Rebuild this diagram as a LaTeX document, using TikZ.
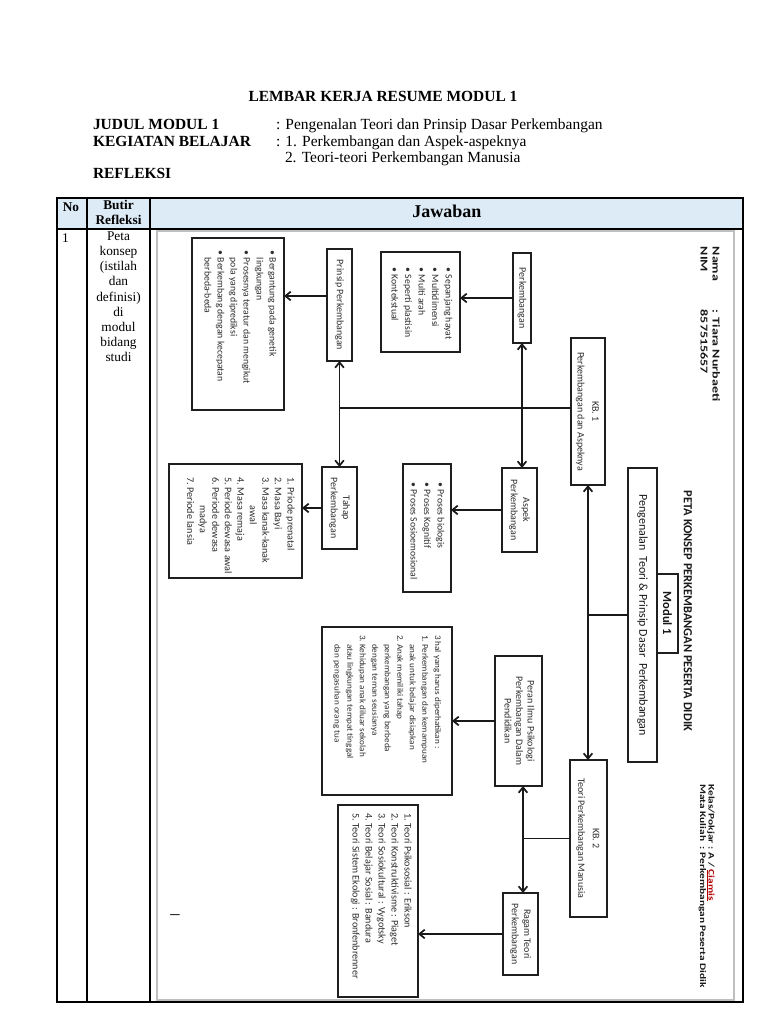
\documentclass[tikz,border=0pt]{standalone}
\usepackage{fontspec}
\setmainfont{Liberation Serif}
\newfontfamily\carl{Carlito}
\usepackage{graphicx}
\usetikzlibrary{arrows.meta}
\newlength\px
\setlength\px{0.75pt}
\definecolor{hdrblue}{RGB}{221,235,247}
\newcommand\rotT[1]{\rotatebox{-90}{#1}}
\begin{document}
\begin{tikzpicture}[x=0.75pt,y=-0.75pt,
  every node/.style={inner sep=0pt, outer sep=0pt},
  box/.style={draw=black!88, line width=1.1pt, fill=white, text=black!82},
  lbl/.style={box, font=\carl\fontsize{7.5}{9.2}\selectfont},
  kbl/.style={box, font=\carl\fontsize{7.5}{11.2}\selectfont},
  ltxt/.style={rotate=-90, anchor=base west, text=black!82},
  conn/.style={draw=black!90, line width=1.3pt},
  arr/.style={conn, -{Straight Barb[length=4pt,width=6.5pt]}},
  darr/.style={conn, {Straight Barb[length=4pt,width=6.5pt]}-{Straight Barb[length=4pt,width=6.5pt]}},
  hd/.style={font=\fontsize{11.6}{14}\selectfont},
  hdb/.style={font=\fontsize{11.6}{14}\selectfont\bfseries},
  tbl/.style={draw=black, line width=1.1pt},
]
\useasboundingbox (0,0) rectangle (768,1024);
\fill[white] (0,0) rectangle (768,1024);

% header texts
\node[hdb, anchor=base] (title) at (383,102) {LEMBAR KERJA RESUME MODUL 1};
\node[hdb, anchor=base west] (judul) at (93,129) {JUDUL MODUL 1};
\node[hd, anchor=base west] (judulv) at (276,129) {: Pengenalan Teori dan Prinsip Dasar Perkembangan};
\node[hdb, anchor=base west] (keg) at (93,146) {KEGIATAN BELAJAR};
\node[hd, anchor=base west] (kegv1) at (276,146) {: 1. Perkembangan dan Aspek-aspeknya};
\node[hd, anchor=base west] (kegv2) at (285,162) {2. Teori-teori Perkembangan Manusia};
\node[hdb, anchor=base west] (refl) at (93,178) {REFLEKSI};

% table
\fill[hdrblue] (57,198) rectangle (743,229);
\draw[tbl] (57,198) rectangle (743,1002);
\draw[tbl] (57,229) -- (743,229);
\draw[tbl] (87,198) -- (87,1002);
\draw[tbl] (150,198) -- (150,1002);

\node[font=\fontsize{10}{11.2}\selectfont\bfseries] (hno) at (71,207) {No};
\node[font=\fontsize{10}{11.2}\selectfont\bfseries] (hbutir) at (118.5,214) {\begin{tabular}{@{}c@{}}Butir\\Refleksi\end{tabular}};
\node[font=\fontsize{13.5}{16}\selectfont\bfseries] (hjaw) at (447,211) {Jawaban};
\node[font=\fontsize{10}{11.4}\selectfont, anchor=base west] (no1) at (62,242) {1};
\node[font=\fontsize{10}{11.4}\selectfont] (butir1) at (118.5,298) {\begin{tabular}{@{}c@{}}Peta\\konsep\\(istilah\\dan\\definisi)\\di\\modul\\bidang\\studi\end{tabular}};

% picture frame
\draw[black!25, line width=1.1pt] (157,231) rectangle (734,1000);
\node[font=\fontsize{14}{16}\selectfont] (dash) at (175,917) {–};

% ---------- concept map: boxes ----------
\node[box, minimum width=92\px, minimum height=172\px] (A) at (238,324) {};
\node[lbl, minimum width=25\px, minimum height=112\px] (B) at (339.5,305) {\rotT{Prinsip Perkembangan}};
\node[box, minimum width=79\px, minimum height=100\px] (C) at (420.5,302) {};
\node[lbl, minimum width=18\px, minimum height=90\px] (D) at (522,298) {\rotT{Perkembangan}};
\node[kbl, minimum width=34\px, minimum height=147\px] (KB1) at (588,411.5) {\rotT{\begin{tabular}{@{}c@{}}KB. 1\\Perkembangan dan Aspeknya\end{tabular}}};
\node[lbl, minimum width=35\px, minimum height=84\px] (Aspek) at (519.5,510) {\rotT{\begin{tabular}{@{}c@{}}Aspek\\Perkembangan\end{tabular}}};
\node[box, minimum width=48\px, minimum height=128\px] (E) at (427,528) {};
\node[lbl, minimum width=35\px, minimum height=82\px] (Tahap) at (339.5,508) {\rotT{\begin{tabular}{@{}c@{}}Tahap\\Perkembangan\end{tabular}}};
\node[box, minimum width=133\px, minimum height=114\px] (F) at (235.5,521) {};
\node[box, font=\carl\fontsize{9}{11}\selectfont, text=black!90, minimum width=29\px, minimum height=294\px] (Peng) at (642.5,615) {\rotT{Pengenalan\ \ Teori \& Prinsip Dasar\ \ Perkembangan}};
\node[box, font=\carl\fontsize{9.4}{11}\selectfont\bfseries, text=black!90, minimum width=21\px, minimum height=79\px] (Modul) at (667.5,613.5) {\rotT{Modul 1}};
\node[font=\carl\fontsize{9.3}{11}\selectfont\bfseries, text=black!90] (peta) at (688,611) {\rotT{PETA KONSEP PERKEMBANGAN PESERTA DIDIK}};
\node[kbl, minimum width=37\px, minimum height=157\px] (KB2) at (588.5,838.5) {\rotT{\begin{tabular}{@{}c@{}}KB. 2\\Teori Perkembangan Manusia\end{tabular}}};
\node[lbl, font=\carl\fontsize{7.5}{8.6}\selectfont, minimum width=47\px, minimum height=130\px] (Peran) at (518.5,721) {\rotT{\begin{tabular}{@{}c@{}}Peran Ilmu Psikologi\\Perkembangan Dalam\\Pendidikan\end{tabular}}};
\node[box, minimum width=130\px, minimum height=168\px] (G) at (387,711) {};
\node[lbl, minimum width=35\px, minimum height=82\px] (Ragam) at (520.5,934) {\rotT{\begin{tabular}{@{}c@{}}Ragam Teori\\Perkembangan\end{tabular}}};
\node[box, minimum width=80\px, minimum height=192\px] (H) at (378,901) {};

% ---------- list texts ----------
\node[ltxt, font=\carl\fontsize{7.3}{9.75}\selectfont] (Atxt) at (269.5,250) {\begin{tabular}[t]{@{}l@{\hspace{3\px}}l@{}}
\textbullet & Bergantung pada genetik\\
 & lingkungan\\
\textbullet & Prosesnya teratur dan mengikut\\
 & pola yang diprediksi\\
\textbullet & Berkembang dengan kecepatan\\
 & berbeda-beda
\end{tabular}};

\node[ltxt, font=\carl\fontsize{7.3}{10.1}\selectfont] (Ctxt) at (445.5,267) {\begin{tabular}[t]{@{}l@{\hspace{3\px}}l@{}}
\textbullet & Sepanjang hayat\\
\textbullet & Multidimensi\\
\textbullet & Multi arah\\
\textbullet & Seperti plastisin\\
\textbullet & Kontekstual
\end{tabular}};

\node[ltxt, font=\carl\fontsize{7.3}{10.1}\selectfont] (Etxt) at (437.5,482) {\begin{tabular}[t]{@{}l@{\hspace{3\px}}l@{}}
\textbullet & Proses biologis\\
\textbullet & Proses Kognitif\\
\textbullet & Proses Sosioemosional
\end{tabular}};

\node[ltxt, font=\carl\fontsize{7.6}{9.4}\selectfont] (Ftxt) at (287.5,477) {\begin{tabular}[t]{@{}l@{\hspace{3\px}}l@{}}
1. & Priode prenatal\\
2. & Masa Bayi\\
3. & Masa kanak-kanak\\
 & \hspace{18\px}awal\\
4. & Masa remaja\\
5. & Periode dewasa awal\\
6. & Periode dewasa\\
 & \hspace{18\px}madya\\
7. & Periode lansia
\end{tabular}};

\node[ltxt, xscale=1.07, font=\carl\fontsize{6.4}{9.4}\selectfont] (Gtxt) at (435,635) {\begin{tabular}[t]{@{}l@{\hspace{2\px}}l@{}}
\multicolumn{2}{@{}l@{}}{3 hal yang harus diperhatikan :}\\
1. & Perkembangan dan kemampuan\\
 & anak untuk belajar disiapkan\\
2. & Anak memiliki tahap\\
 & perkembangan yang berbeda\\
 & dengan teman seusianya\\
3. & Kehidupan anak diluar sekolah\\
 & atau lingkungan tempat tinggal\\
 & dan pengasuhan orang tua
\end{tabular}};

\node[ltxt, font=\carl\fontsize{7.6}{9.75}\selectfont] (Htxt) at (404.5,813) {\begin{tabular}[t]{@{}l@{\hspace{3\px}}l@{}}
1. & Teori Psikososial : Erikson\\
2. & Teori Konstruktivisme : Piaget\\
3. & Teori Sosiokultural : Vygotsky\\
4. & Teori Belajar Sosial : Bandura\\
5. & Teori Sistem Ekologi : Bronfenbrenner
\end{tabular}};

% ---------- info texts ----------
\node[font=\carl\fontsize{10.5}{12}\selectfont\bfseries, text=black!90] (nama) at (709,324) {\rotT{\scalebox{1}[0.75]{\begin{tabular}{@{}p{63\px}@{}l@{}}Nama & : Tiara Nurbaeti\\NIM & 857515657\end{tabular}}}};
\node[font=\carl\fontsize{8.5}{8.5}\selectfont\bfseries, text=black!90] (kelas) at (706,886) {\rotT{\scalebox{1}[0.75]{\begin{tabular}{@{}p{62\px}@{}l@{}}Kelas/Pokjar & : A / {\color{red!70!black}\underline{Ciamis}}\\Mata Kuliah & : Perkembangan Peserta Didik\end{tabular}}}};

% ---------- connectors ----------
\coordinate (bA) at ([yshift=6.75pt]B.west);
\draw[arr] (bA) -- (bA -| A.east);
\draw[arr] (D.west) -- (D.west -| C.east);
\draw[darr] (B.south) -- (Tahap.north);
\coordinate (k1) at ([yshift=2.6pt]KB1.west);
\draw[conn] (k1) -- (k1 -| B.south);
\draw[darr] (D.south) -- (D.south |- Aspek.north);
\draw[arr] (Aspek.west) -- (Aspek.west -| E.east);
\draw[arr] (Tahap.west) -- (Tahap.west -| F.east);
\draw[darr] (KB1.south) -- (KB1.south |- KB2.north);
\draw[conn] (Peng.west) -- (Peng.west -| KB1.south);
\draw[arr] (Peran.west) -- (Peran.west -| G.east);
\coordinate (v2) at (523,840);
\draw[darr] (Peran.south -| v2) -- (Ragam.north -| v2);
\draw[conn] (KB2.west) -- (KB2.west -| v2);
\draw[arr] (Ragam.west) -- (Ragam.west -| H.east);
\end{tikzpicture}
\end{document}
